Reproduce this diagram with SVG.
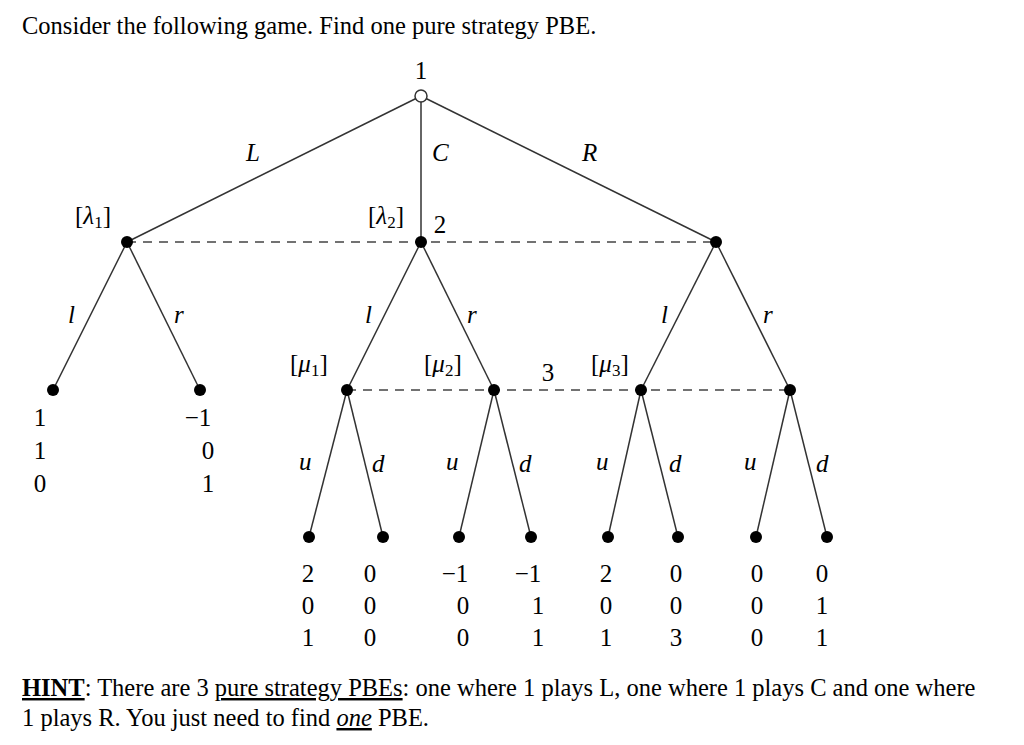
<svg xmlns="http://www.w3.org/2000/svg" width="1024" height="745" viewBox="0 0 1024 745">
<style>
text{font-family:"Liberation Serif","DejaVu Serif",serif;fill:#000}
.t{font-size:24.5px}
.lb{font-size:25px}
.i{font-style:italic}
.n{font-size:25px;text-anchor:middle}
.s{font-size:17px;font-style:normal}
.e{stroke:#333;stroke-width:1.5;fill:none}
.d{stroke:#444;stroke-width:1.5;stroke-dasharray:9,7;fill:none}
</style>
<rect width="1024" height="745" fill="#fff"/>
<text class="t" x="22" y="34">Consider the following game. Find one pure strategy PBE.</text>
<g id="edges">
<line class="e" x1="421" y1="96" x2="127" y2="242"/>
<line class="e" x1="421" y1="96" x2="421" y2="242"/>
<line class="e" x1="421" y1="96" x2="716" y2="242"/>
<line class="e" x1="127" y1="242" x2="53" y2="390"/>
<line class="e" x1="127" y1="242" x2="200" y2="390"/>
<line class="e" x1="421" y1="242" x2="347" y2="390"/>
<line class="e" x1="421" y1="242" x2="494" y2="390"/>
<line class="e" x1="716" y1="242" x2="641" y2="390"/>
<line class="e" x1="716" y1="242" x2="790" y2="390"/>
<line class="e" x1="347" y1="390" x2="309" y2="537"/>
<line class="e" x1="347" y1="390" x2="383" y2="537"/>
<line class="e" x1="494" y1="390" x2="459" y2="537"/>
<line class="e" x1="494" y1="390" x2="531" y2="537"/>
<line class="e" x1="641" y1="390" x2="608" y2="537"/>
<line class="e" x1="641" y1="390" x2="678" y2="537"/>
<line class="e" x1="790" y1="390" x2="756" y2="537"/>
<line class="e" x1="790" y1="390" x2="827" y2="537"/>
<line class="d" x1="127" y1="242" x2="716" y2="242"/>
<line class="d" x1="347" y1="390" x2="790" y2="390"/>
</g>
<g id="root"><circle cx="421" cy="96" r="6" fill="#fff" stroke="#333" stroke-width="1.5"/><text class="n" x="421" y="79">1</text></g>
<g id="p2"><circle cx="127" cy="242" r="6"/><circle cx="421" cy="242" r="6"/><circle cx="716" cy="242" r="6"/><text class="n" x="440" y="233">2</text></g>
<g id="p3"><circle cx="347" cy="390" r="6"/><circle cx="494" cy="390" r="6"/><circle cx="641" cy="390" r="6"/><circle cx="790" cy="390" r="6"/><text class="n" x="548" y="381">3</text></g>
<g id="leaves">
<circle cx="53" cy="390" r="6"/><circle cx="200" cy="390" r="6"/>
<circle cx="309" cy="537" r="6"/><circle cx="383" cy="537" r="6"/>
<circle cx="459" cy="537" r="6"/><circle cx="531" cy="537" r="6"/>
<circle cx="608" cy="537" r="6"/><circle cx="678" cy="537" r="6"/>
<circle cx="756" cy="537" r="6"/><circle cx="827" cy="537" r="6"/>
</g>
<g id="labels" class="lb">
<text class="i" x="246" y="161">L</text>
<text class="i" x="432" y="161">C</text>
<text class="i" x="582" y="161">R</text>
<text x="75" y="224">[<tspan class="i">λ</tspan><tspan class="s" dy="4">1</tspan><tspan dy="-4">]</tspan></text>
<text x="368" y="224">[<tspan class="i">λ</tspan><tspan class="s" dy="4">2</tspan><tspan dy="-4">]</tspan></text>
<text class="i" x="68" y="323">l</text>
<text class="i" x="174" y="323">r</text>
<text class="i" x="365" y="323">l</text>
<text class="i" x="467" y="323">r</text>
<text class="i" x="661" y="323">l</text>
<text class="i" x="763" y="323">r</text>
<text x="290" y="372">[<tspan class="i">μ</tspan><tspan class="s" dy="4">1</tspan><tspan dy="-4">]</tspan></text>
<text x="424" y="372">[<tspan class="i">μ</tspan><tspan class="s" dy="4">2</tspan><tspan dy="-4">]</tspan></text>
<text x="591" y="372">[<tspan class="i">μ</tspan><tspan class="s" dy="4">3</tspan><tspan dy="-4">]</tspan></text>
<text class="i" x="299" y="470">u</text>
<text class="i" x="372" y="472">d</text>
<text class="i" x="446" y="470">u</text>
<text class="i" x="519" y="472">d</text>
<text class="i" x="596" y="470">u</text>
<text class="i" x="669" y="472">d</text>
<text class="i" x="744" y="470">u</text>
<text class="i" x="816" y="472">d</text>
</g>
<g id="payoffs" class="n">
<text x="40" y="426">1</text><text x="40" y="459">1</text><text x="40" y="492">0</text>
<text x="198" y="426">−1</text><text x="208" y="459">0</text><text x="208" y="492">1</text>
<text x="308" y="582">2</text><text x="308" y="614">0</text><text x="308" y="646">1</text>
<text x="370" y="582">0</text><text x="370" y="614">0</text><text x="370" y="646">0</text>
<text x="455" y="582">−1</text><text x="463" y="614">0</text><text x="463" y="646">0</text>
<text x="528" y="582">−1</text><text x="538" y="614">1</text><text x="538" y="646">1</text>
<text x="606" y="582">2</text><text x="606" y="614">0</text><text x="606" y="646">1</text>
<text x="676" y="582">0</text><text x="676" y="614">0</text><text x="676" y="646">3</text>
<text x="757" y="582">0</text><text x="757" y="614">0</text><text x="757" y="646">0</text>
<text x="822" y="582">0</text><text x="822" y="614">1</text><text x="822" y="646">1</text>
</g>
<text class="t" x="22" y="696"><tspan font-weight="bold" text-decoration="underline">HINT</tspan>: There are 3 <tspan text-decoration="underline">pure strategy PBEs</tspan>: one where 1 plays L, one where 1 plays C and one where</text>
<text class="t" x="22" y="726">1 plays R.  You just need to find <tspan font-style="italic" text-decoration="underline">one</tspan> PBE.</text>
</svg>
